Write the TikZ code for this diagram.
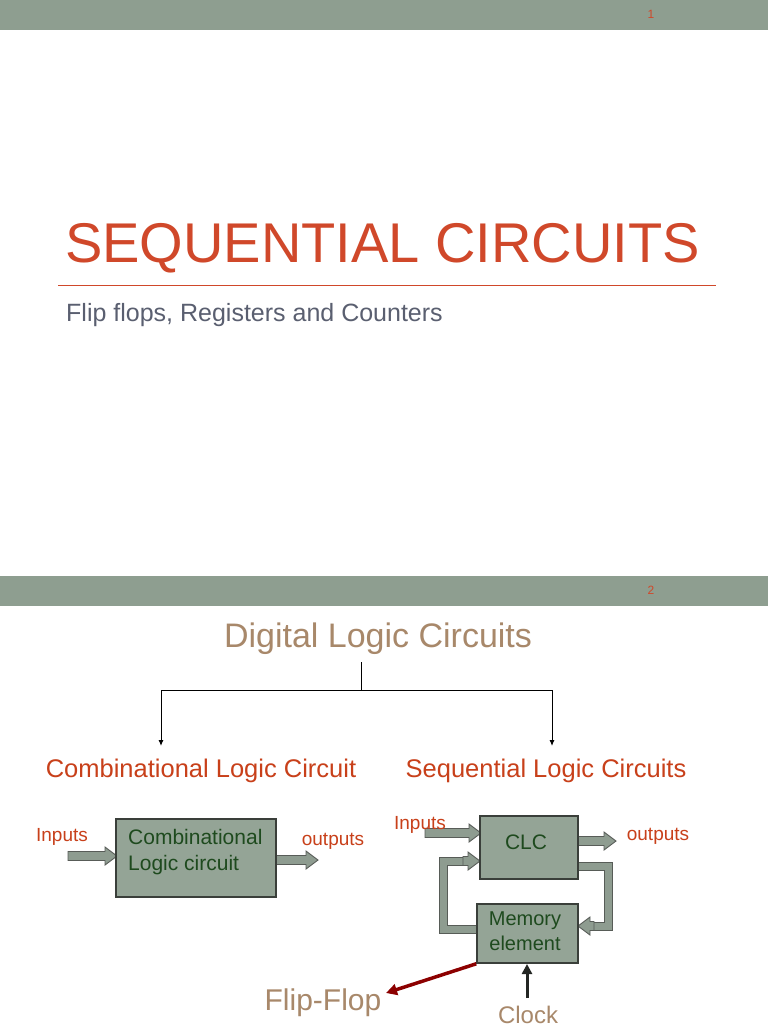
\documentclass[tikz,border=0pt]{standalone}
\usepackage{fontspec}
\setmainfont{Liberation Sans}
\usetikzlibrary{arrows.meta}
\definecolor{barc}{HTML}{8E9E90}
\definecolor{redt}{HTML}{D0482A}
\definecolor{ored}{HTML}{C8401A}
\definecolor{tan}{HTML}{A8886A}
\definecolor{subc}{HTML}{5A5F70}
\definecolor{boxf}{HTML}{94A496}
\definecolor{dgreen}{HTML}{1E4A1E}
\definecolor{edgec}{HTML}{3A3F3A}
\definecolor{arrf}{HTML}{8E9C90}
% #1 x start, #2 x tip, #3 y, #4 direction (+1 right, -1 left)
\newcommand\harrow[4]{%
  \draw[fatline] ({#1},{#3-4.5}) -- ({#2-#4*12},{#3-4.5}) -- ({#2-#4*12},{#3-9}) -- ({#2},{#3})
   -- ({#2-#4*12},{#3+9}) -- ({#2-#4*12},{#3+4.5}) -- ({#1},{#3+4.5}) -- cycle;}
\begin{document}
\begin{tikzpicture}[x=1pt,y=-1pt,
  blk/.style={draw=edgec,line width=1.5pt,fill=boxf,inner sep=0pt},
  fatline/.style={draw=edgec!85,fill=arrf,line width=0.9pt,line join=miter},
  lbl/.style={text=ored,font=\fontsize{19}{22}\selectfont},
  btxt/.style={text=dgreen,font=\fontsize{21}{26}\selectfont}]
\useasboundingbox (0,0) rectangle (768,1024);
\fill[white] (0,0) rectangle (768,1024);
\fill[barc] (0,0) rectangle (768,30);
\fill[barc] (0,576) rectangle (768,606);
\node[text=redt,font=\fontsize{12}{12}\selectfont] (n1) at (651,14) {1};
\node[text=redt,font=\fontsize{12}{12}\selectfont] (n2) at (651,590) {2};
\node[anchor=base west,text=redt,font=\fontsize{56}{64}\selectfont,inner sep=0] (title) at (65,262) {SEQUENTIAL CIRCUITS};
\draw[redt,line width=1pt] (58,285) -- (716,285);
\node[anchor=base west,text=subc,font=\fontsize{25}{28}\selectfont,inner sep=0] (sub) at (66,321) {Flip flops, Registers and Counters};
% slide 2
\node[text=tan,font=\fontsize{34}{38}\selectfont] (dlc) at (378,639) {Digital Logic Circuits};
\coordinate (t0) at (361,662); \coordinate (tm) at (361,690);
\coordinate (tl) at (161,690); \coordinate (tr) at (552,690);
\coordinate (al) at (161,746); \coordinate (ar) at (552,746);
\draw[black,line width=1pt] (t0) -- (tm) (tl) -- (tr);
\draw[black,line width=1pt,-{Latex[length=6pt,width=5pt]}] (tl) -- (al);
\draw[black,line width=1pt,-{Latex[length=6pt,width=5pt]}] (tr) -- (ar);
\node[text=ored,font=\fontsize{25.5}{28}\selectfont] (cl) at (201,771) {Combinational Logic Circuit};
\node[text=ored,font=\fontsize{25.5}{28}\selectfont] (sl) at (546,771) {Sequential Logic Circuits};
% left box
\harrow{68}{117}{856}{1}
\harrow{276}{318}{860}{1}
\node[blk,minimum width=160pt,minimum height=78pt] (cbox) at (196,858) {};
\node[btxt,anchor=north west,align=left,inner sep=0] (ctxt) at (128,829) {Combinational\\Logic circuit};
\node[lbl] (in1) at (62,837) {Inputs};
\node[lbl] (out1) at (333,841) {outputs};
% feedback paths
\draw[edgec!85,line width=9pt] (577,866) -- (608,866) -- (608,926) -- (592,926);
\draw[arrf,line width=7pt] (577,866) -- (608,866) -- (608,926) -- (592,926);
\harrow{594}{578}{926}{-1}
\draw[edgec!85,line width=9pt] (478,929) -- (443,929) -- (443,861) -- (466,861);
\draw[arrf,line width=7pt] (478,929) -- (443,929) -- (443,861) -- (466,861);
\harrow{463}{480}{861}{1}
% right
\harrow{425}{481}{833}{1}
\harrow{578}{616}{841}{1}
\node[blk,minimum width=98pt,minimum height=63pt] (clc) at (529,847.5) {};
\node[btxt] (clct) at (526,842) {CLC};
\node[blk,minimum width=101pt,minimum height=59pt] (mem) at (527.5,933.5) {};
\node[btxt,align=center,font=\fontsize{20}{25}\selectfont] (memt) at (525,931) {Memory\\element};
\node[lbl] (in2) at (420,825) {Inputs};
\node[lbl] (out2) at (658,836) {outputs};
% clock & flipflop
\node[text=tan,font=\fontsize{24}{28}\selectfont,anchor=north] (clk) at (528,1003) {Clock};
\coordinate (cs) at (527,998);
\draw[edgec!60!black,line width=3pt,-{Triangle[length=10pt,width=10pt]}] (cs) -- (527,964);
\node[text=tan,font=\fontsize{30}{34}\selectfont] (ff) at (323,1003) {Flip-Flop};
\draw[red!55!black,line width=3.5pt,-{Triangle[length=11pt,width=11pt]}] (mem.south west) -- (386,993);
\end{tikzpicture}
\end{document}
